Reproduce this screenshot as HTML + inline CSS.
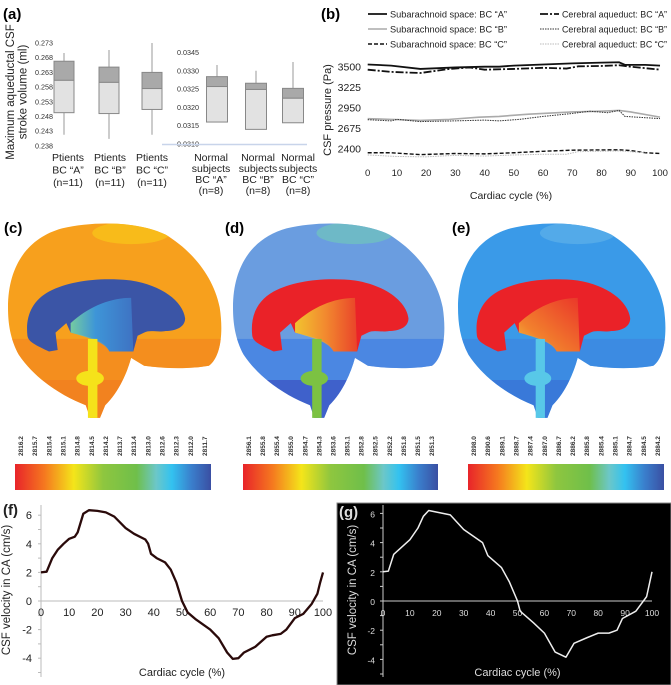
<!DOCTYPE html>
<html><head><meta charset="utf-8"><style>
html,body{margin:0;padding:0;background:#fff;}
svg{display:block;font-family:"Liberation Sans",sans-serif;}
</style></head><body>
<svg id="fig" width="671" height="685" viewBox="0 0 671 685" xmlns="http://www.w3.org/2000/svg">
<defs>
<linearGradient id="cbar" x1="0" x2="1" y1="0" y2="0">
<stop offset="0" stop-color="#e8242a"/><stop offset="0.15" stop-color="#f5781f"/><stop offset="0.3" stop-color="#f4e51a"/><stop offset="0.45" stop-color="#8ec63f"/><stop offset="0.62" stop-color="#6fbf4a"/><stop offset="0.72" stop-color="#6cc7c8"/><stop offset="0.8" stop-color="#33c2f0"/><stop offset="0.9" stop-color="#3a7fcc"/><stop offset="1" stop-color="#3a4fa3"/>
</linearGradient>
<linearGradient id="cgC" x1="0" x2="1"><stop offset="0" stop-color="#7fe0a0"/><stop offset="0.4" stop-color="#3ea0e0"/><stop offset="1" stop-color="#3f78c8"/></linearGradient>
<linearGradient id="cgD" x1="0" x2="1"><stop offset="0" stop-color="#f3e030"/><stop offset="0.5" stop-color="#f39a30"/><stop offset="1" stop-color="#e94a2a"/></linearGradient>
<linearGradient id="cgE" x1="0" x2="1" y1="1" y2="0"><stop offset="0" stop-color="#f5e040"/><stop offset="0.3" stop-color="#f3922e"/><stop offset="1" stop-color="#ea3a2a"/></linearGradient>
</defs>
<g id="panelA"></g>
<g id="panelB"></g>
<g id="brains"></g>
<g id="panelF"></g>
<g id="panelG"></g>
</svg>
<script>
// ---- panel (a) data
const aCats1 = [["Ptients","BC \u201cA\u201d","(n=11)"],["Ptients","BC \u201cB\u201d","(n=11)"],["Ptients","BC \u201cC\u201d","(n=11)"]];
const aWhiskTop1 = [0.2696, 0.2706, 0.2730];
const aQ3_1 = [0.2668, 0.2648, 0.2630];
const aMed1 = [0.2603, 0.2596, 0.2575];
const aQ1_1 = [0.2493, 0.2490, 0.2504];
const aWhiskBot1 = [0.2418, 0.2404, 0.2418];
const aTicks1 = ["0.238","0.243","0.248","0.253","0.258","0.263","0.268","0.273"];
const aCats2 = [["Normal","subjects","BC \u201cA\u201d","(n=8)"],["Normal","subjects","BC \u201cB\u201d","(n=8)"],["Normal","subjects","BC \u201cC\u201d","(n=8)"]];
const aWhiskTop2 = [0.03316, 0.03300, 0.03324];
const aQ3_2 = [0.03284, 0.03266, 0.03252];
const aMed2 = [0.03257, 0.03249, 0.03225];
const aQ1_2 = [0.03160, 0.03140, 0.03158];
const aTicks2 = ["0.0310","0.0315","0.0320","0.0325","0.0330","0.0345"];
// ---- panel (b) data
const bX_SAA = [0,8,18,30,40,45,50,60,70,80,86,88,95,100];
const bY_SAA = [3530,3515,3470,3490,3500,3500,3515,3530,3545,3555,3560,3525,3525,3515];
const bX_CAA = [0,8,18,28,35,40,50,60,68,72,80,86,90,100];
const bY_CAA = [3460,3430,3415,3470,3490,3460,3470,3485,3475,3505,3510,3520,3500,3460];
const bX_SAB = [0,8,18,28,38,45,55,60,70,80,86,90,100];
const bY_SAB = [2800,2790,2775,2790,2820,2830,2860,2870,2890,2900,2910,2890,2820];
const bX_CAB = [0,8,10,18,30,40,45,52,60,70,76,82,86,88,100];
const bY_CAB = [2785,2770,2790,2760,2770,2780,2770,2790,2830,2870,2900,2880,2910,2830,2800];
const bX_SAC = [0,8,18,30,40,50,60,70,86,90,95,100];
const bY_SAC = [2340,2340,2315,2330,2325,2340,2360,2375,2380,2370,2340,2330];
const bX_CAC = [0,10,20,30,40,50,60,68,72,86,95];
const bY_CAC = [2310,2290,2285,2305,2295,2310,2320,2320,2355,2365,2340];
const bYTicks = [2400,2675,2950,3225,3500];
const bXTicks = [0,10,20,30,40,50,60,70,80,90,100];
// ---- colorbar labels
const cbC = ["2816.2","2815.7","2815.4","2815.1","2814.8","2814.5","2814.2","2813.7","2813.4","2813.0","2812.6","2812.3","2812.0","2811.7"];
const cbD = ["2856.1","2855.8","2855.4","2855.0","2854.7","2854.3","2853.6","2853.1","2852.8","2852.5","2852.2","2851.8","2851.5","2851.3"];
const cbE = ["2898.0","2890.6","2889.1","2888.7","2887.4","2887.0","2886.7","2886.2","2885.8","2885.4","2885.1","2884.7","2884.5","2884.2"];
// ---- panel (f) & (g) data
const fX = [0,2,4,6,8,10,12,13,15,17,20,23,26,30,33,37,38,39,41,44,46,48,50,52,55,60,63,66,68,70,72,76,80,82,85,87,90,93,96,98,99,100];
const fV = [2,2.05,3,3.6,4,4.35,4.5,4.8,6.1,6.35,6.3,6.2,5.9,5.1,4.7,4.3,4,3.3,3,2.7,2.2,1.3,0,-0.8,-1.3,-2,-2.6,-3.6,-4.05,-4,-3.6,-3.2,-2.5,-2.4,-2.3,-2,-1.2,-0.9,-0.2,0.5,1.3,2];
const gX = [0,2,4,10,13,15,17,25,30,37,39,44,47,50,51,56,60,64,68,71,76,80,84,87,89,94,98,100];
const gV = [2,2.05,3.2,4.2,5,5.8,6.2,5.9,4.9,4,3.1,2.3,1.3,0,-0.7,-1.5,-2.2,-3.5,-3.85,-2.9,-2.5,-2.2,-2.2,-2,-1.2,-0.7,0.3,2];
const fgYTicks = [-4,-2,0,2,4,6];
const fgXTicks = [0,10,20,30,40,50,60,70,80,90,100];

const NS="http://www.w3.org/2000/svg";
function mk(parent,tag,attrs,txt){const e=document.createElementNS(NS,tag);for(const k in attrs)e.setAttribute(k,attrs[k]);if(txt!==undefined)e.textContent=txt;parent.appendChild(e);return e;}

// ===== Panel A
const A=document.getElementById('panelA');
let t=mk(A,'text',{x:3,y:19,'font-size':15,'font-weight':'bold'},'(a)');


let yt=mk(A,'text',{transform:'translate(14,92) rotate(-90)','text-anchor':'middle','font-size':11.5,fill:'#222'});


mk(yt,'tspan',{x:0,y:0},'Maximum aqueductal CSF');
mk(yt,'tspan',{x:0,y:12.5},'stroke volume (ml)');
const ya1=v=>43+(0.273-v)/0.005*14.7;
aTicks1.forEach(s=>{const e=mk(A,'text',{x:35,y:ya1(parseFloat(s))+2.5,'font-size':7.2,fill:'#333'},s);

});
const centers1=[64,109,152], lblC1=[68,110,152];
function box(g,cx,w,wt,q3,med,q1,wb,ys,name){
  const grp=mk(g,'g',{});
  
  
  mk(grp,'line',{x1:cx,x2:cx,y1:ys(wt),y2:ys(q3),stroke:'#999','stroke-width':1});
  if(wb!==null) mk(grp,'line',{x1:cx,x2:cx,y1:ys(q1),y2:ys(wb),stroke:'#999','stroke-width':1});
  mk(grp,'rect',{x:cx-w/2,y:ys(q3),width:w,height:ys(med)-ys(q3),fill:'#a9a9a9',stroke:'#888','stroke-width':1});
  mk(grp,'rect',{x:cx-w/2,y:ys(med),width:w,height:ys(q1)-ys(med),fill:'#e2e2e2',stroke:'#888','stroke-width':1});
}
aQ3_1.forEach((q,i)=>box(A,centers1[i],20,aWhiskTop1[i],q,aMed1[i],aQ1_1[i],aWhiskBot1[i],ya1,'patient-box-'+i));
aCats1.forEach((c,i)=>c.forEach((s,j)=>{const e=mk(A,'text',{x:lblC1[i],y:161+j*12.5,'text-anchor':'middle','font-size':10.5,fill:'#222'},s);

}));
const ya2=v=>144-(v-0.0310)/0.0005*18.3;
aTicks2.forEach((s,i)=>{const e=mk(A,'text',{x:177,y:ya2(0.0310+i*0.0005)+2.5,'font-size':7.2,fill:'#333'},s);

});
mk(A,'line',{x1:162,x2:307,y1:144.5,y2:144.5,stroke:'#c8d4ea','stroke-width':1.5});
const centers2=[217,256,293], lblC2=[211,258,298];
aQ3_2.forEach((q,i)=>box(A,centers2[i],21,aWhiskTop2[i],q,aMed2[i],aQ1_2[i],null,ya2,'normal-box-'+i));
aCats2.forEach((c,i)=>c.forEach((s,j)=>{const e=mk(A,'text',{x:lblC2[i],y:161+j*11,'text-anchor':'middle','font-size':10.5,fill:'#222'},s);

}));

// ===== Panel B
const B=document.getElementById('panelB');
t=mk(B,'text',{x:321,y:19,'font-size':15,'font-weight':'bold'},'(b)');


const bx=v=>367.7+v/100*292.3, by=v=>66.7+(3500-v)/275*20.4;
const styles={SAA:{s:'#111',w:1.8,d:''},SAB:{s:'#aaa',w:1.6,d:''},SAC:{s:'#111',w:1.4,d:'4,2'},CAA:{s:'#111',w:1.8,d:'8,2,2,2'},CAB:{s:'#333',w:1,d:'1.5,1'},CAC:{s:'#bbb',w:1,d:'1.5,1'}};
const legend=[["SAA",'Subarachnoid space: BC \u201cA\u201d',368,14,117],["SAB",'Subarachnoid space: BC \u201cB\u201d',368,29,117],["SAC",'Subarachnoid space: BC \u201cC\u201d',368,44,117],["CAA",'Cerebral aqueduct: BC \u201cA\u201d',540,14,105],["CAB",'Cerebral aqueduct: BC \u201cB\u201d',540,29,105],["CAC",'Cerebral aqueduct: BC \u201cC\u201d',540,44,105]];
legend.forEach(l=>{const g=mk(B,'g',{});


const st=styles[l[0]];
mk(g,'line',{x1:l[2],x2:l[2]+19,y1:l[3],y2:l[3],stroke:st.s,'stroke-width':st.w,'stroke-dasharray':st.d});
mk(g,'text',{x:l[2]+22,y:l[3]+3.5,'font-size':9.6,fill:'#222',textLength:l[4],lengthAdjust:'spacingAndGlyphs'},l[1]);});
bYTicks.forEach(v=>{const e=mk(B,'text',{x:361,y:by(v)+4,'text-anchor':'end','font-size':10.5,fill:'#222'},v);

});
bXTicks.forEach(v=>{const e=mk(B,'text',{x:bx(v),y:176,'text-anchor':'middle','font-size':9.5,fill:'#222'},v);

});
t=mk(B,'text',{transform:'translate(331,110) rotate(-90)','text-anchor':'middle','font-size':11,fill:'#222'},'CSF pressure (Pa)');


t=mk(B,'text',{x:511,y:199,'text-anchor':'middle','font-size':10.5,fill:'#222'},'Cardiac cycle (%)');


[["SAA",bX_SAA,bY_SAA],["CAA",bX_CAA,bY_CAA],["SAB",bX_SAB,bY_SAB],["CAB",bX_CAB,bY_CAB],["SAC",bX_SAC,bY_SAC],["CAC",bX_CAC,bY_CAC]].forEach(s=>{
 const st=styles[s[0]];
 const p=mk(B,'polyline',{points:s[1].map((x,i)=>bx(x)+','+by(s[2][i])).join(' '),fill:'none',stroke:st.s,'stroke-width':st.w,'stroke-dasharray':st.d});
 
 });

// ===== Brains
const BR=document.getElementById('brains');
const outer="M 15,330 C 15,200 60,110 140,80 C 220,55 320,60 380,100 C 440,150 490,230 505,330 C 515,420 505,490 480,515 C 440,525 380,525 330,515 L 300,490 C 290,540 270,600 240,640 L 228,680 L 205,680 L 195,640 C 140,610 80,560 40,480 C 20,430 15,380 15,330 Z";
const vent="M 60,420 C 55,360 70,310 110,280 C 160,245 230,235 300,245 C 370,260 420,310 425,365 C 425,395 400,405 380,405 C 360,410 345,400 330,410 L 315,420 L 305,470 L 250,470 C 240,440 220,430 190,420 L 160,410 L 150,380 L 125,410 L 130,465 L 110,470 C 80,450 62,440 60,420 Z";
const center="M 160,380 C 200,330 250,300 300,300 L 305,470 L 250,470 C 240,440 200,425 160,410 Z";
const brainSpecs=[
 {lbl:'(c)',lx:4,dx:8,sx:0.432,outer:'#f7a01d',top:'#f8c21a',low:'#f2861f',bot:'#f07a20',vent:'#3b55a6',cen:'url(#cgC)',stem:'#f5e21a',cb:cbC,cbx:15,cbw:196,name:'c'},
 {lbl:'(d)',lx:225,dx:233,sx:0.428,outer:'#6a9de0',top:'#6fc0c0',low:'#3f7de2',bot:'#3552c6',vent:'#ea2228',cen:'url(#cgD)',stem:'#7cc242',cb:cbD,cbx:243,cbw:195,name:'d'},
 {lbl:'(e)',lx:452,dx:458,sx:0.42,outer:'#3a9ae8',top:'#5aaee8',low:'#3d84e0',bot:'#3a70d4',vent:'#ea2228',cen:'url(#cgE)',stem:'#58c8e8',cb:cbE,cbx:468,cbw:196,name:'e'}];
brainSpecs.forEach(b=>{
 let l=mk(BR,'text',{x:b.lx,y:233,'font-size':15,'font-weight':'bold'},b.lbl);
 
 
 const g=mk(BR,'g',{transform:`translate(${b.dx},222) scale(${b.sx},0.316) translate(-15,-60)`});
 
 
 mk(g,'path',{d:outer,fill:b.outer});
 mk(g,'clipPath',{id:'clip'+b.name}).appendChild(document.createElementNS(NS,'path')).setAttribute('d',outer);
 const cg=mk(g,'g',{'clip-path':`url(#clip${b.name})`});
 mk(cg,'ellipse',{cx:300,cy:95,rx:90,ry:35,fill:b.top,opacity:0.8});
 mk(cg,'rect',{x:0,y:430,width:520,height:130,fill:b.low,opacity:0.7});
 mk(cg,'rect',{x:0,y:560,width:520,height:130,fill:b.bot,opacity:0.8});
 mk(g,'path',{d:vent,fill:b.vent});
 mk(g,'path',{d:center,fill:b.cen,opacity:0.85});
 mk(g,'rect',{x:200,y:430,width:22,height:250,fill:b.stem});
 mk(g,'ellipse',{cx:205,cy:555,rx:32,ry:24,fill:b.stem});
 const r=mk(BR,'rect',{x:b.cbx,y:464,width:b.cbw,height:26,fill:'url(#cbar)'});
 
 
 b.cb.forEach((s,i)=>{const x=b.cbx+6+i*(b.cbw-12)/13;
  const e=mk(BR,'text',{transform:`translate(${x+2},456) rotate(-90)`,'font-size':6.5,'font-weight':'bold',fill:'#333'},s);
  
  });
});

// ===== Panel F / G
function velPanel(G,opt,xs,vs){
 const xp=v=>opt.x0+v/100*(opt.x1-opt.x0), yp=v=>opt.zero-v*opt.unit;
 if(opt.bg){const r=mk(G,'rect',{x:opt.bg[0],y:opt.bg[1],width:opt.bg[2],height:opt.bg[3],fill:'#000',stroke:'#888','stroke-width':1});
  
  }
 let l=mk(G,'text',{x:opt.lx,y:opt.ly,'font-size':15,'font-weight':'bold',fill:opt.fg},opt.lbl);
 
 
 mk(G,'line',{x1:opt.x0,x2:opt.x0,y1:505,y2:677,stroke:opt.axis,'stroke-width':1});
 for(let v=-5;v<=6.5;v+=1) mk(G,'line',{x1:opt.x0-3,x2:opt.x0,y1:yp(v),y2:yp(v),stroke:opt.axis,'stroke-width':1});
 mk(G,'line',{x1:opt.x0,x2:opt.x1,y1:yp(0),y2:yp(0),stroke:opt.axis,'stroke-width':1});
 fgYTicks.forEach(v=>{const e=mk(G,'text',{x:opt.x0-opt.tgap,y:yp(v)+4,'text-anchor':'end','font-size':opt.fs,fill:opt.fg},v);
  
  });
 fgXTicks.forEach(v=>{const e=mk(G,'text',{x:xp(v),y:yp(0)+15,'text-anchor':'middle','font-size':opt.fs,fill:opt.fg},v);
  
  });
 let a=mk(G,'text',{transform:`translate(${opt.ytx},590) rotate(-90)`,'text-anchor':'middle','font-size':11.5,fill:opt.fg},'CSF velocity in CA (cm/s)');
 
 
 a=mk(G,'text',{x:(opt.x0+opt.x1)/2,y:676,'text-anchor':'middle','font-size':11,fill:opt.fg},'Cardiac cycle (%)');
 
 
 const p=mk(G,'polyline',{points:xs.map((x,i)=>xp(x)+','+yp(vs[i])).join(' '),fill:'none',stroke:opt.line,'stroke-width':opt.lw,'stroke-linejoin':'round'});
 
 
}
velPanel(document.getElementById('panelF'),{x0:41,x1:323,zero:601,unit:14.3,lx:3,ly:515,lbl:'(f)',fg:'#222',axis:'#bbb',fs:11,tgap:9,ytx:10,line:'#2a0a0a',lw:2.3},fX,fV);
velPanel(document.getElementById('panelG'),{x0:383,x1:652,zero:601,unit:14.6,lx:339,ly:517,lbl:'(g)',fg:'#ddd',axis:'#ccc',fs:8.5,tgap:8,ytx:356,line:'#eee',lw:1.5,bg:[337,503,334,182]},gX,gV);
</script>
</body></html>
